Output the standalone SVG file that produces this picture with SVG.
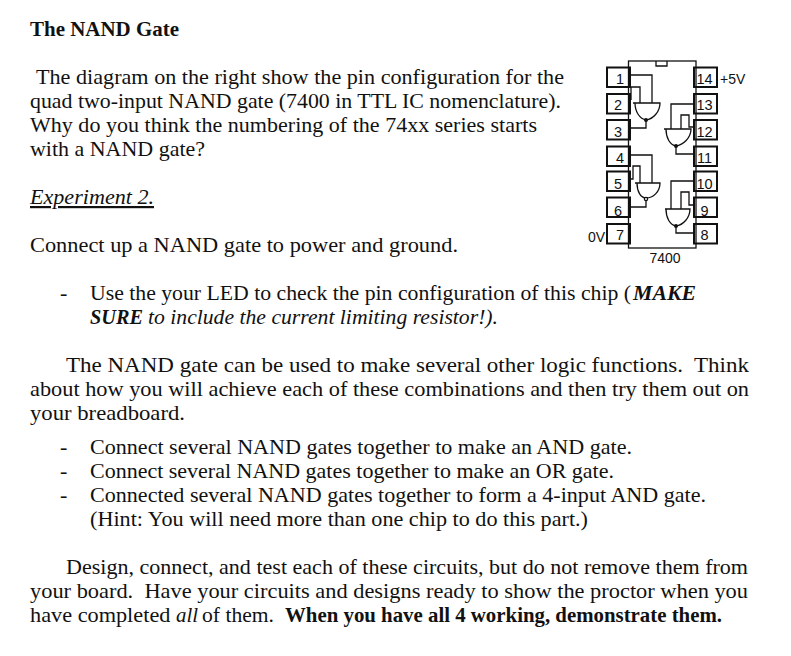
<svg xmlns="http://www.w3.org/2000/svg" width="791" height="656" viewBox="0 0 791 656">
<style>
text{fill:#111}
.b{font-family:"Liberation Serif","Times New Roman",serif;font-size:22px}
.t{font-weight:bold}
.i{font-style:italic}
.p{font-family:"Liberation Sans",Arial,sans-serif;font-size:14px}
.n{font-size:14.5px}
.m{text-anchor:middle}
.box{fill:none;stroke:#111;stroke-width:2}
.w{fill:none;stroke:#111;stroke-width:1.3}
.g{fill:#fff;stroke:#111;stroke-width:1.3}
.d{fill:#111}
</style>
<rect width="791" height="656" fill="#fff"/>
<g id="text">
<text class="b t" x="30" y="36" textLength="149" lengthAdjust="spacingAndGlyphs">The NAND Gate</text>
<text class="b" x="36" y="84" textLength="528" lengthAdjust="spacingAndGlyphs">The diagram on the right show the pin configuration for the</text>
<text class="b" x="30" y="108" textLength="531" lengthAdjust="spacingAndGlyphs">quad two-input NAND gate (7400 in TTL IC nomenclature).</text>
<text class="b" x="30" y="132" textLength="507" lengthAdjust="spacingAndGlyphs">Why do you think the numbering of the 74xx series starts</text>
<text class="b" x="30" y="156" textLength="175" lengthAdjust="spacingAndGlyphs">with a NAND gate?</text>
<text class="b i" x="30" y="204" text-decoration="underline" textLength="124" lengthAdjust="spacingAndGlyphs">Experiment 2.</text>
<text class="b" x="30" y="252" textLength="428" lengthAdjust="spacingAndGlyphs">Connect up a NAND gate to power and ground.</text>
<text class="b" x="60" y="300">-</text>
<text class="b" x="90" y="300"><tspan textLength="541" lengthAdjust="spacingAndGlyphs">Use the your LED to check the pin configuration of this chip (</tspan><tspan class="t i" x="633" textLength="63" lengthAdjust="spacingAndGlyphs">MAKE</tspan></text>
<text class="b" x="90" y="324"><tspan class="t i" textLength="53" lengthAdjust="spacingAndGlyphs">SURE</tspan><tspan class="i" x="148" textLength="350" lengthAdjust="spacingAndGlyphs">to include the current limiting resistor!).</tspan></text>
<text class="b" x="66" y="372" xml:space="preserve" textLength="683" lengthAdjust="spacingAndGlyphs">The NAND gate can be used to make several other logic functions.  Think</text>
<text class="b" x="30" y="396" textLength="719" lengthAdjust="spacingAndGlyphs">about how you will achieve each of these combinations and then try them out on</text>
<text class="b" x="30" y="420" textLength="155" lengthAdjust="spacingAndGlyphs">your breadboard.</text>
<text class="b" x="60" y="454">-</text>
<text class="b" x="90" y="454" textLength="542" lengthAdjust="spacingAndGlyphs">Connect several NAND gates together to make an AND gate.</text>
<text class="b" x="60" y="478">-</text>
<text class="b" x="90" y="478" textLength="524" lengthAdjust="spacingAndGlyphs">Connect several NAND gates together to make an OR gate.</text>
<text class="b" x="60" y="502">-</text>
<text class="b" x="90" y="502" textLength="616" lengthAdjust="spacingAndGlyphs">Connected several NAND gates together to form a 4-input AND gate.</text>
<text class="b" x="90" y="526" textLength="498" lengthAdjust="spacingAndGlyphs">(Hint: You will need more than one chip to do this part.)</text>
<text class="b" x="66" y="574" textLength="682" lengthAdjust="spacingAndGlyphs">Design, connect, and test each of these circuits, but do not remove them from</text>
<text class="b" x="30" y="598" xml:space="preserve" textLength="718" lengthAdjust="spacingAndGlyphs">your board.  Have your circuits and designs ready to show the proctor when you</text>
<text class="b" x="30" y="622"><tspan textLength="146" lengthAdjust="spacingAndGlyphs">have completed </tspan><tspan class="i" x="176" textLength="22" lengthAdjust="spacingAndGlyphs">all</tspan><tspan x="202" textLength="72" lengthAdjust="spacingAndGlyphs">of them.</tspan><tspan class="t" x="285" textLength="437" lengthAdjust="spacingAndGlyphs">When you have all 4 working, demonstrate them.</tspan></text>
</g>
<g id="chip">
<rect class="w" x="628.5" y="61" width="67.5" height="187"/>
<path class="w" d="M656 61V66H667V61"/>
</g>
<g id="pin1"><rect class="box" x="607" y="67.5" width="23" height="19.5"/><text class="p n m" x="620" y="84">1</text></g>
<g id="pin2"><rect class="box" x="607" y="94" width="23" height="19.5"/><text class="p n m" x="618" y="110">2</text></g>
<g id="pin3"><rect class="box" x="607" y="120" width="23" height="19.5"/><text class="p n m" x="618" y="137">3</text></g>
<g id="pin4"><rect class="box" x="607" y="146.5" width="23" height="19.5"/><text class="p n m" x="620" y="163">4</text></g>
<g id="pin5"><rect class="box" x="607" y="171.5" width="23" height="19.5"/><text class="p n m" x="618" y="189">5</text></g>
<g id="pin6"><rect class="box" x="607" y="197.5" width="23" height="19.5"/><text class="p n m" x="618" y="216">6</text></g>
<g id="pin7"><rect class="box" x="607" y="224" width="23" height="19.5"/><text class="p n m" x="620" y="240">7</text></g>
<g id="pin14"><rect class="box" x="694" y="67.5" width="23" height="19.5"/><text class="p n m" x="704.5" y="84">14</text></g>
<g id="pin13"><rect class="box" x="694" y="94" width="23" height="19.5"/><text class="p n m" x="704.5" y="110">13</text></g>
<g id="pin12"><rect class="box" x="694" y="120" width="23" height="19.5"/><text class="p n m" x="704.5" y="137">12</text></g>
<g id="pin11"><rect class="box" x="694" y="146.5" width="23" height="19.5"/><text class="p n m" x="704.5" y="163">11</text></g>
<g id="pin10"><rect class="box" x="694" y="171.5" width="23" height="19.5"/><text class="p n m" x="704.5" y="189">10</text></g>
<g id="pin9"><rect class="box" x="694" y="197.5" width="23" height="19.5"/><text class="p n m" x="704.5" y="216">9</text></g>
<g id="pin8"><rect class="box" x="694" y="224" width="23" height="19.5"/><text class="p n m" x="704.5" y="240">8</text></g>
<g id="labels">
<text class="p" x="720" y="84">+5V</text>
<text class="p" x="588" y="242">0V</text>
<text class="p m" x="665" y="263">7400</text>
</g>
<g id="connectors">
<path class="w" d="M630 75H652V103"/>
<path class="w" d="M631 100V87H640V103"/>
<path class="w" d="M646 120V128H630"/>
<path class="w" d="M694 104H671V129"/>
<path class="w" d="M694 127H689V115H681V129"/>
<path class="w" d="M676 146V154H694"/>
<path class="w" d="M630 155H652V183"/>
<path class="w" d="M630 179H633V166H640V183"/>
<path class="w" d="M646 199V207H630"/>
<path class="w" d="M694 181H671V209"/>
<path class="w" d="M694 205H689V192H681V209"/>
<path class="w" d="M676 226V233H694"/>
</g>
<g id="gate1"><path class="g" d="M633 103H660C660 112 653 119 646 120C640 119 635 112 635 103"/><circle class="d" cx="646" cy="120" r="2"/></g>
<g id="gate2"><path class="g" d="M664 129H691C691 138 683 145 676 146C670 145 666 138 666 129"/><circle class="d" cx="676" cy="146" r="2"/></g>
<g id="gate3"><path class="g" d="M635 183H660C660 192 653 198 646 198C641 198 637 192 637 183"/><circle class="g" cx="646" cy="199" r="1.6"/></g>
<g id="gate4"><path class="g" d="M665 209H690C690 218 683 225 676 226C670 225 666 218 666 209"/><circle class="d" cx="676" cy="226" r="2"/></g>
</svg>
